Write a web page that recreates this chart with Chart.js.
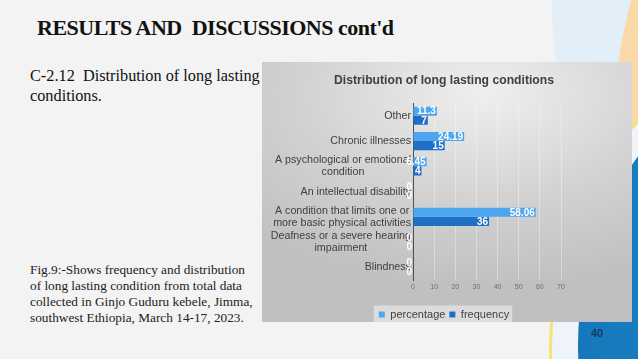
<!DOCTYPE html>
<html>
<head>
<meta charset="utf-8">
<script src="https://cdn.jsdelivr.net/npm/chart.js@4"></script>
<style>
  html, body { margin: 0; padding: 0; }
  body { width: 638px; height: 359px; position: relative; overflow: hidden; background: #f3f3f3; font-family: "Liberation Serif", serif; }
  .deco { position: absolute; }
  #lblue { left: 552px; top: -260px; width: 300px; height: 520px; border-radius: 50%; background: #e2eef8; }
  #peach { left: 612px; top: -200px; width: 400px; height: 700px; border-radius: 50%; background: #f9d9a8; }
  #yarc { left: 549px; top: 8px; width: 680px; height: 680px; border-radius: 50%; border: 3px solid #f6e27a; box-sizing: border-box; background: #eef4f9; }
  #blue { left: 578px; top: 18px; width: 654px; height: 654px; border-radius: 50%; background: linear-gradient(90deg, #1678bb, #23a6dc); }
  #pnum { position: absolute; left: 591px; top: 327px; font: bold 11px "Liberation Sans", sans-serif; color: #173a5e; }
  #heading { position: absolute; left: 37px; top: 15px; font-weight: bold; font-size: 22px; color: #111; white-space: pre; letter-spacing: -0.5px; }
  #sub { position: absolute; left: 30px; top: 66px; font-size: 16.3px; line-height: 20px; color: #111; white-space: pre; }
  #cap { position: absolute; left: 30px; top: 262px; font-size: 13.3px; line-height: 16px; color: #222; white-space: pre; }
  #box { position: absolute; left: 262px; top: 62px; width: 370px; height: 260px;
         background: radial-gradient(ellipse 90% 75% at 60% 12%, #efefef 0%, #d2d2d2 55%, #c0c0c0 100%); }
  #chart { position: absolute; left: 0; top: 0; }
</style>
</head>
<body>
<div class="deco" id="lblue"></div>
<div class="deco" id="peach"></div>
<div class="deco" id="yarc"></div>
<div class="deco" id="blue"></div>
<div id="pnum">40</div>
<div id="heading">RESULTS AND  DISCUSSIONS cont'd</div>
<div id="sub">C-2.12  Distribution of long lasting
conditions.</div>
<div id="cap">Fig.9:-Shows frequency and distribution
of long lasting condition from total data
collected in Ginjo Guduru kebele, Jimma,
southwest Ethiopia, March 14-17, 2023.</div>
<div id="box"><canvas id="chart" width="370" height="268"></canvas></div>
<script>
const categories = [
  'Other',
  'Chronic illnesses',
  ['A psychological or emotional', 'condition'],
  'An intellectual disability',
  ['A condition that limits one or', 'more basic physical activities'],
  ['Deafness or a severe hearing', 'impairment'],
  'Blindness'
];
const percentage = [11.3, 24.19, 6.45, 0, 58.06, 0, 0];
const frequency = [7, 15, 4, 0, 36, 0, 0];
const xTicks = [0, 10, 20, 30, 40, 50, 60, 70];

const FONT = '"Liberation Sans", sans-serif';

// category labels: block right-aligned to the axis, lines centred inside the block
const catLabels = {
  id: 'catLabels',
  beforeDatasetsDraw(chart) {
    const ctx = chart.ctx;
    const y = chart.scales.y;
    ctx.save();
    ctx.font = '10.7px ' + FONT;
    ctx.fillStyle = '#404040';
    ctx.textAlign = 'center';
    ctx.textBaseline = 'middle';
    chart.data.labels.forEach((lab, i) => {
      const lines = Array.isArray(lab) ? lab : [lab];
      const w = Math.max(...lines.map(s => ctx.measureText(s).width));
      const cx = y.right - 2 - w / 2;
      const cy = y.getPixelForValue(i);
      const lh = 11.5;
      lines.forEach((s, k) => {
        ctx.fillText(s, cx, cy + (k - (lines.length - 1) / 2) * lh);
      });
    });
    ctx.restore();
  }
};

// white value labels at the end of each bar
const barLabels = {
  id: 'barLabels',
  afterDatasetsDraw(chart) {
    const ctx = chart.ctx;
    ctx.save();
    ctx.font = 'bold 10px ' + FONT;
    ctx.fillStyle = '#ffffff';
    ctx.textAlign = 'right';
    ctx.textBaseline = 'middle';
    chart.data.datasets.forEach((ds, i) => {
      chart.getDatasetMeta(i).data.forEach((bar, j) => {
        ctx.fillText(String(ds.data[j]), bar.x - 1, bar.y + 0.5);
      });
    });
    ctx.restore();
  }
};

// lighter panel behind the legend items
const legendPanel = {
  id: 'legendPanel',
  beforeDraw(chart) {
    const boxes = chart.legend && chart.legend.legendHitBoxes;
    if (!boxes || !boxes.length) return;
    const ctx = chart.ctx;
    const l = Math.min(...boxes.map(b => b.left)) - 5;
    const r = Math.max(...boxes.map(b => b.left + b.width)) + 3;
    const t = boxes[0].top + boxes[0].height / 2 - 9;
    ctx.save();
    ctx.fillStyle = 'rgba(232,232,232,0.7)';
    ctx.fillRect(l, t, r - l, 260 - t);
    ctx.restore();
  }
};

new Chart(document.getElementById('chart'), {
  type: 'bar',
  data: {
    labels: categories,
    datasets: [
      { label: 'percentage', data: percentage, backgroundColor: '#4ea6ee', categoryPercentage: 0.72, barPercentage: 1.0 },
      { label: 'frequency', data: frequency, backgroundColor: '#1f6fc6', categoryPercentage: 0.72, barPercentage: 1.0 }
    ]
  },
  options: {
    indexAxis: 'y',
    responsive: false,
    animation: false,
    layout: { padding: { left: 0, right: 6, top: 0, bottom: 0 } },
    plugins: {
      title: {
        display: true,
        text: 'Distribution of long lasting conditions',
        color: '#404040',
        font: { family: FONT, size: 12.2, weight: 'bold' },
        padding: { top: 11, bottom: 15.5 }
      },
      legend: {
        position: 'bottom',
        labels: {
          color: '#404040',
          font: { family: FONT, size: 11 },
          boxWidth: 6, boxHeight: 6, padding: 4
        }
      },
      tooltip: { enabled: false }
    },
    scales: {
      x: {
        min: 0, max: 70,
        afterBuildTicks: s => { s.ticks = xTicks.map(v => ({ value: v })); },
        afterFit: s => { s.height = 25; },
        grid: { color: 'rgba(255,255,255,0.35)', drawTicks: false },
        border: { display: false },
        ticks: { color: '#707070', font: { family: FONT, size: 7 }, padding: 2.5 }
      },
      y: {
        afterFit: s => { s.width = 151; },
        grid: { display: false, drawTicks: false },
        border: { display: true, color: '#505050', width: 1 },
        ticks: { display: false }
      },
      // empty axis on the right only to reserve space, so title and legend stay centred
      yRight: {
        axis: 'y',
        type: 'linear',
        position: 'right',
        afterFit: s => { s.width = 65; },
        grid: { display: false, drawTicks: false },
        border: { display: false },
        ticks: { display: false }
      }
    }
  },
  plugins: [catLabels, barLabels, legendPanel]
});
</script>
</body>
</html>
